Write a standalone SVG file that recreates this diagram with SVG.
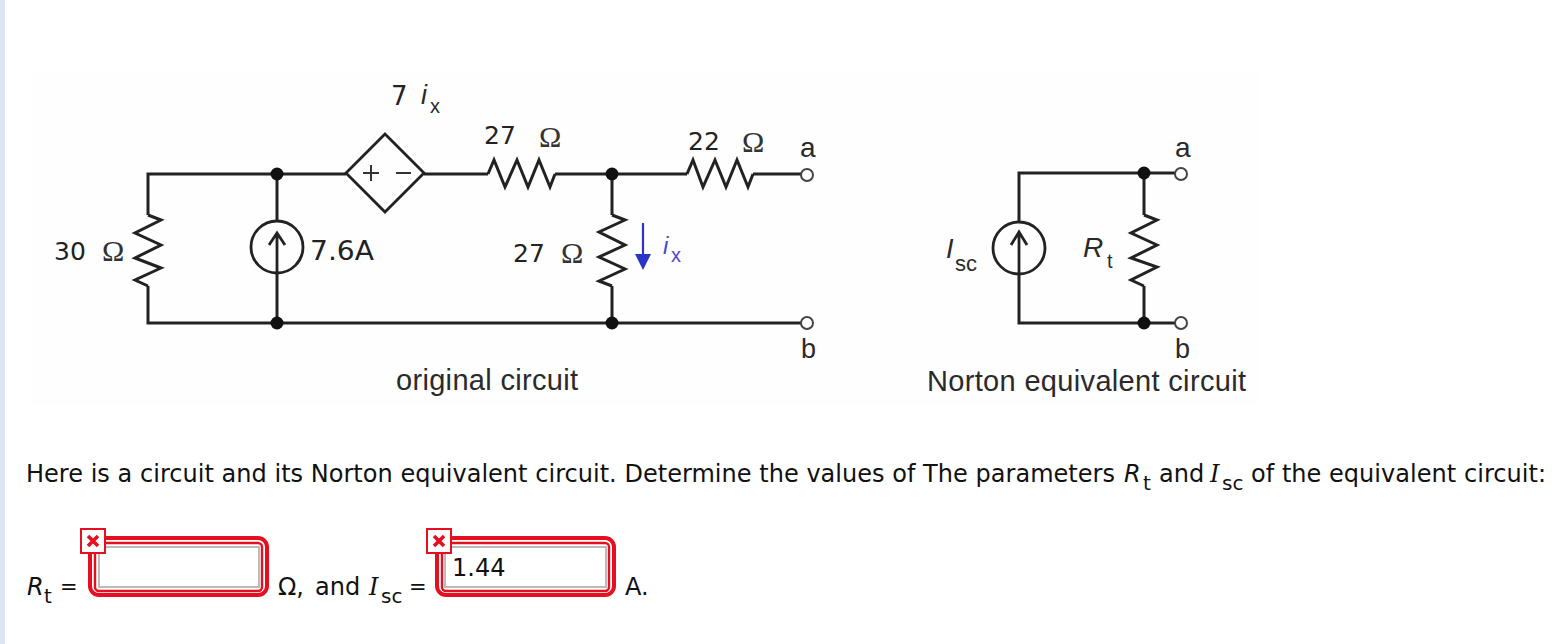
<svg xmlns="http://www.w3.org/2000/svg" width="1558" height="644" viewBox="0 0 1558 644">
<style>
.w{fill:none;stroke:#222;stroke-width:3;stroke-linejoin:miter}
.d{fill:#111;stroke:none}
.t{fill:#fff;stroke:#444;stroke-width:2}
.s{fill:none;stroke:#222;stroke-width:2.8}
.a{font-family:"Liberation Sans",Arial,sans-serif;fill:#2a2a2a}
.v{font-family:"DejaVu Sans",sans-serif;fill:#222}
.m{font-family:"Liberation Serif",serif;fill:#333;font-size:30px}
.q{font-family:"DejaVu Sans",sans-serif;fill:#111;font-size:24px}
.u{font-size:20px}
.e{font-size:21px}
.z{font-family:"DejaVu Serif",serif}
.i{font-style:italic}
.o{fill:none;stroke:#e5101f;stroke-width:4}
.n{fill:none;stroke:#e5101f;stroke-width:2.4}
.b{fill:#fff;stroke:#bbb;stroke-width:2}
.x{fill:#fff;stroke:#e5101f;stroke-width:2}
.k{fill:none;stroke:#e5101f;stroke-width:3.6}
.c{fill:#4a4ad0}
</style>
<rect width="1558" height="644" fill="#fff"/>
<rect x="0" y="0" width="5" height="644" fill="#dbe5f3"/>
<rect x="30" y="70" width="1230" height="335" fill="#fefefe"/>
<g id="connectors">
<path class="w" d="M148 215V174H346M424 174H488M555 174H687M753 174H801"/>
<path class="w" d="M148 286V323H801"/>
<path class="w" d="M277 174V221M277 273V323"/>
<path class="w" d="M612 174V215M612 286V323"/>
<path class="w" d="M1019 222V173H1175M1019 274V323H1175"/>
<path class="w" d="M1144 173V215M1144 286V323"/>
</g>
<g id="r30"><path class="w" d="M148 215L161 220L135 233L161 245L135 258L161 268L135 280L148 286"/></g>
<g id="r27h"><path class="w" d="M488 174L494 160L505 187L517 160L528 187L539 160L550 187L555 174"/></g>
<g id="r22"><path class="w" d="M687 174L693 160L703 187L715 160L726 187L737 160L748 187L753 174"/></g>
<g id="r27v"><path class="w" d="M612 215L625 220L599 232L625 245L599 257L625 269L599 281L612 286"/></g>
<g id="rt"><path class="w" d="M1144 215L1157 220L1131 233L1157 245L1131 258L1157 267L1131 280L1144 286"/></g>
<g id="isrc1"><circle class="s" cx="277" cy="247" r="26"/><path class="s" d="M277 273V233M269 245L277 233L285 245"/></g>
<g id="isrc2"><circle class="s" cx="1019" cy="248" r="26"/><path class="s" d="M1019 274V232M1011 245L1019 232L1027 245"/></g>
<g id="dep"><path class="s" d="M385 134L424 173L385 212L346 173Z"/><path d="M363 173H379M371 165V181M396 173H411" fill="none" stroke="#333" stroke-width="2"/></g>
<g id="nodes">
<circle class="d" cx="277" cy="174" r="6.5"/><circle class="d" cx="277" cy="323" r="6.5"/>
<circle class="d" cx="612" cy="174" r="6.5"/><circle class="d" cx="612" cy="323" r="6.5"/>
<circle class="d" cx="1144" cy="173" r="6.5"/><circle class="d" cx="1144" cy="323" r="6.5"/>
<circle class="t" cx="807" cy="175" r="6"/><circle class="t" cx="807" cy="323" r="6"/>
<circle class="t" cx="1181" cy="174" r="6"/><circle class="t" cx="1181" cy="323" r="6"/>
</g>
<g id="ixarrow"><path d="M643 223V258" stroke="#2a35c8" stroke-width="2.2" fill="none"/><path d="M635 254H651L643 270Z" fill="#2a35c8"/></g>
<g id="labels">
<text class="v" x="391" y="105" font-size="26">7</text>
<text class="a i" x="421" y="104" font-size="27">i</text><text class="a" x="430" y="113" font-size="20">x</text>
<text class="v" x="484" y="144" font-size="25">27</text><text class="m" x="539" y="147">Ω</text>
<text class="v" x="688" y="150" font-size="25">22</text><text class="m" x="742" y="152">Ω</text>
<text class="a" x="800" y="157" font-size="28">a</text>
<text class="a" x="801" y="358" font-size="27">b</text>
<text class="v" x="54" y="260" font-size="25">30</text><text class="m" x="102" y="261">Ω</text>
<text class="v" x="310" y="260" font-size="26" textLength="64" lengthAdjust="spacingAndGlyphs">7.6A</text>
<text class="v" x="513" y="262" font-size="25">27</text><text class="m" x="561" y="263">Ω</text>
<text class="a i c" x="663" y="254" font-size="24">i</text><text class="a c" x="671" y="262" font-size="20">x</text>
<text class="a" x="396" y="390" font-size="29" textLength="182">original circuit</text>
<text class="a i" x="946" y="258" font-size="27">I</text><text class="a" x="955" y="271" font-size="22">sc</text>
<text class="a i" x="1083" y="257" font-size="28">R</text><text class="a" x="1107" y="268" font-size="20">t</text>
<text class="a" x="1175" y="157" font-size="28">a</text>
<text class="a" x="1175" y="358" font-size="27">b</text>
<text class="a" x="927" y="391" font-size="29" textLength="319">Norton equivalent circuit</text>
</g>
<g id="question">
<text class="q" x="26" y="482" textLength="1089">Here is a circuit and its Norton equivalent circuit. Determine the values of The parameters</text>
<text class="q i" x="1124" y="482">R</text><text class="q u" x="1143" y="490">t</text>
<text class="q" x="1159" y="482">and</text>
<text class="q i z" x="1210" y="482">I</text><text class="q u" x="1222" y="490">sc</text>
<text class="q" x="1251" y="482" textLength="295">of the equivalent circuit:</text>
<text class="q i" x="27" y="595">R</text><text class="q u" x="44" y="603">t</text><text class="q e" x="60" y="594">=</text>
<text class="q" x="278" y="595">Ω,</text><text class="q" x="315" y="595">and</text>
<text class="q i z" x="369" y="595">I</text><text class="q u" x="381" y="603">sc</text><text class="q e" x="409" y="594">=</text>
<text class="q" x="625" y="595">A.</text>
</g>
<g id="input1">
<rect class="o" x="90" y="538" width="177" height="57" rx="9"/>
<rect class="n" x="95" y="543" width="167" height="48" rx="4"/>
<rect class="b" x="99" y="547" width="160" height="40"/>
<rect class="x" x="81" y="529" width="24" height="24"/>
<path class="k" d="M88 536L98 546M98 536L88 546"/>
</g>
<g id="input2">
<rect class="o" x="437" y="538" width="177" height="57" rx="9"/>
<rect class="n" x="442" y="543" width="167" height="48" rx="4"/>
<rect class="b" x="445" y="547" width="161" height="40"/>
<text class="q" x="452" y="576">1.44</text>
<rect class="x" x="427" y="529" width="24" height="24"/>
<path class="k" d="M434 536L444 546M444 536L434 546"/>
</g>
</svg>
